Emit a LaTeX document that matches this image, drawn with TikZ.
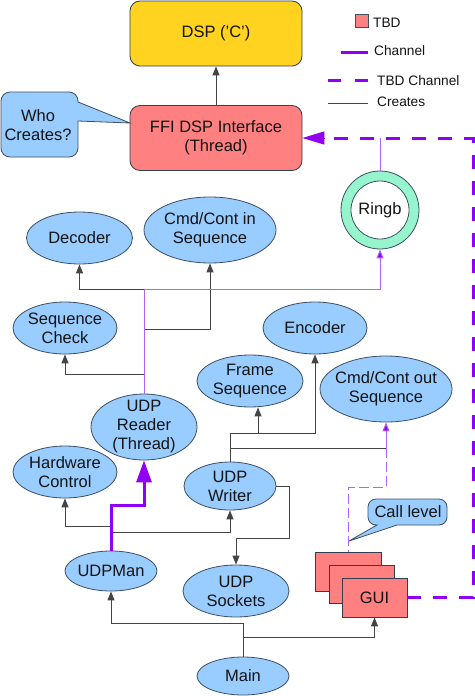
\documentclass[tikz,border=0pt]{standalone}
\usepackage{fontspec}
\setmainfont{Liberation Sans}
\usetikzlibrary{shapes.geometric,arrows.meta,calc}
\definecolor{bfill}{RGB}{153,204,255}
\definecolor{bdraw}{RGB}{60,80,100}
\definecolor{salmon}{RGB}{255,128,128}
\definecolor{dspyel}{RGB}{255,211,32}
\definecolor{mint}{RGB}{150,245,205}
\definecolor{chan}{RGB}{145,0,245}
\definecolor{chlight}{RGB}{176,100,245}
\definecolor{crcol}{RGB}{68,68,68}
\definecolor{txt}{RGB}{20,20,20}
\tikzset{
  mainfont/.style={font=\fontsize{16.5}{19}\selectfont, text=txt},
  lbl/.style={mainfont, align=center, inner sep=0pt},
  ellnode/.style 2 args={ellipse, draw=bdraw, fill=bfill, line width=0.8pt, minimum width=#1, minimum height=#2, inner sep=0pt},
  boxnode/.style 2 args={rectangle, draw=bdraw!80!black, line width=0.8pt, minimum width=#1, minimum height=#2, inner sep=0pt, mainfont, align=center},
  cr/.style={draw=crcol, line width=1pt},
  crarrow/.style={cr, -{Triangle[width=7pt,length=9pt]}},
  chthin/.style={draw=chlight, line width=1pt},
  charrow/.style={chthin, -{Triangle[width=7pt,length=9pt,fill=chan]}},
  chthick/.style={draw=chan, line width=3pt},
  tbdline/.style={draw=chan, line width=3pt, dash pattern=on 14pt off 12pt},
  tbdthin/.style={draw=chlight, line width=1pt, dash pattern=on 10pt off 4pt},
  callst/.style={draw=bdraw, fill=bfill, line width=0.8pt},
  lgtext/.style={font=\fontsize{13.7}{16}\selectfont, text=txt, anchor=west, inner sep=0pt}
}
\begin{document}
\begin{tikzpicture}[x=1pt,y=-1pt]
\useasboundingbox (0,0) rectangle (474,696);
\fill[white] (0,0) rectangle (474,696);

% boxes
\node[boxnode={172}{65}, fill=dspyel, rounded corners=10] (dsp) at (216,33.5) {DSP ('C')};
\node[boxnode={172}{65}, fill=salmon, rounded corners=10] (ffi) at (216,138) {FFI DSP Interface\\(Thread)};

% who creates callout
\draw[callst] (40,92) [rounded corners=9] -- (1,92) -- (1,157) -- (78,157) [sharp corners] -- (78,121) -- (130,123) -- (78,102) [rounded corners=9] -- (78,92) -- cycle;
\node[lbl] (who) at (38,125) {Who\\Creates?};

% legend
\node[rectangle, draw=bdraw, fill=salmon, minimum size=13pt, inner sep=0pt, line width=0.7pt] (lgsq) at (361.5,20.5) {};
\node[lgtext] (lgt1) at (373,23) {TBD};
\coordinate (lc1a) at (341,52); \coordinate (lc1b) at (368,52);
\draw[chthick] (lc1a) -- (lc1b);
\node[lgtext] (lgt2) at (374,51) {Channel};
\coordinate (lc2a) at (328,80); \coordinate (lc2b) at (368,80);
\draw[chan, line width=3pt, dash pattern=on 13pt off 14pt] (lc2a) -- (lc2b);
\node[lgtext] (lgt3) at (377,81) {TBD Channel};
\coordinate (lc3a) at (328,103); \coordinate (lc3b) at (368,103);
\draw[cr] (lc3a) -- (lc3b);
\node[lgtext] (lgt4) at (377,102) {Creates};

% ring buffer
\node[circle, draw=bdraw, fill=mint, minimum size=78pt, inner sep=0pt, line width=0.8pt] (ring) at (380,210) {};
\node[circle, draw=bdraw, fill=white, minimum size=58pt, inner sep=0pt, line width=0.8pt, mainfont] (ringin) at (380,210) {Ringb};

% ellipses
\node[ellnode={106}{52}, label={[lbl]center:Decoder}] (dec) at (79.5,238) {};
\node[ellnode={132}{66}, label={[lbl]center:{Cmd/Cont in\\Sequence}}] (cin) at (210,230) {};
\node[ellnode={104}{52}, label={[lbl]center:{Sequence\\Check}}] (seq) at (65,328) {};
\node[ellnode={104}{52}, label={[lbl]center:Encoder}] (enc) at (315,328) {};
\node[ellnode={106}{52}, label={[lbl]center:{Frame\\Sequence}}] (frame) at (250,381) {};
\node[ellnode={132}{66}, label={[lbl]center:{Cmd/Cont out\\Sequence}}] (cout) at (386,389) {};
\node[ellnode={106}{66}, label={[lbl]center:{UDP\\Reader\\(Thread)}}] (udpr) at (144,427) {};
\node[ellnode={104}{52}, label={[lbl]center:{Hardware\\Control}}] (hw) at (65,472) {};
\node[ellnode={92}{48}, label={[lbl]center:{UDP\\Writer}}] (udpw) at (230,486) {};
\node[ellnode={92}{40}, label={[lbl]center:UDPMan}] (udpm) at (111,571) {};
\node[ellnode={106}{52}, label={[lbl]center:{UDP\\Sockets}}] (sock) at (236,591) {};
\node[ellnode={92}{38}, label={[lbl]center:Main}] (main) at (243,676) {};

% GUI stack
\node[boxnode={66}{39}, fill=salmon] (gui3) at (348,571.5) {};
\node[boxnode={65}{38}, fill=salmon] (gui2) at (361.5,584) {};
\node[boxnode={65}{39}, fill=salmon] (gui) at (374.5,597.5) {GUI};

% call level callout
\draw[callst] (408,499) [rounded corners=8] -- (368,499) -- (368,525) [sharp corners] -- (377,525) -- (349,541) -- (397,525) [rounded corners=8] -- (447,525) -- (447,499) -- cycle;
\node[lbl] (call) at (408,512) {Call level};

% ---- connectors ----
\draw[crarrow] (ffi.north) -- (dsp.south);

% TBD channel GUI -> FFI
\coordinate (tbdc) at (473,138);
\draw[tbdline] (gui.east) -| (tbdc) -- ($(ffi.east)+(20,0)$);
\draw[chthin, -{Triangle[width=13pt,length=22pt,fill=chan]}, draw=chan] ($(ffi.east)+(22,0)$) -- (ffi.east);
\draw[chthin] (ring.north) -- (ring.north |- ffi.east);

% UDP Reader creates
\coordinate (jr) at (144,289);
\coordinate (jc) at (144,329);
\coordinate (js) at (144,374);
\draw[crarrow] (jr) -| (dec.south);
\draw[crarrow] (jc) -| (cin.south);
\draw[crarrow] (js) -| (seq.south);
\draw[charrow] (jr) -| (ring.south);
\draw[chthin] (udpr.north) -- (jr);

% UDP Writer creates
\coordinate (jw1) at (230,433);
\coordinate (jw2) at (230,448);
\coordinate (jw3) at (386,448);
\coordinate (jd) at (386,487);
\draw[cr] (udpw.north) -- (jw1);
\draw[crarrow] (jw1) -| (enc.south);
\draw[crarrow] (jw1) -| ([xshift=8pt]frame.south);
\draw[cr] (jw2) -- (jw3);
\draw[charrow] (jw3) -- (cout.south);
\draw[tbdthin] (jw3) -- (jd) -| (gui3.north);

\coordinate (jx) at (289,538);
\draw[crarrow] (udpw.east) -| (jx) -| (sock.north);

% UDPMan creates
\coordinate (jh) at (111,526);
\coordinate (jwr) at (111,532);
\coordinate (jm) at (111,505);
\draw[crarrow] (jh) -| (hw.south);
\draw[crarrow] (jwr) -| (udpw.south);
\draw[chthick, -{Triangle[width=15pt,length=22pt]}] (udpm.north) -- (jm) -| (udpr.south);

% Main creates
\coordinate (jm1) at (243,623);
\coordinate (jm2) at (243,637);
\draw[cr] (main.north) -- (jm2);
\draw[crarrow] (jm2) -- (jm1) -| (udpm.south);
\draw[crarrow] (jm2) -| (gui.south);
\end{tikzpicture}
\end{document}
